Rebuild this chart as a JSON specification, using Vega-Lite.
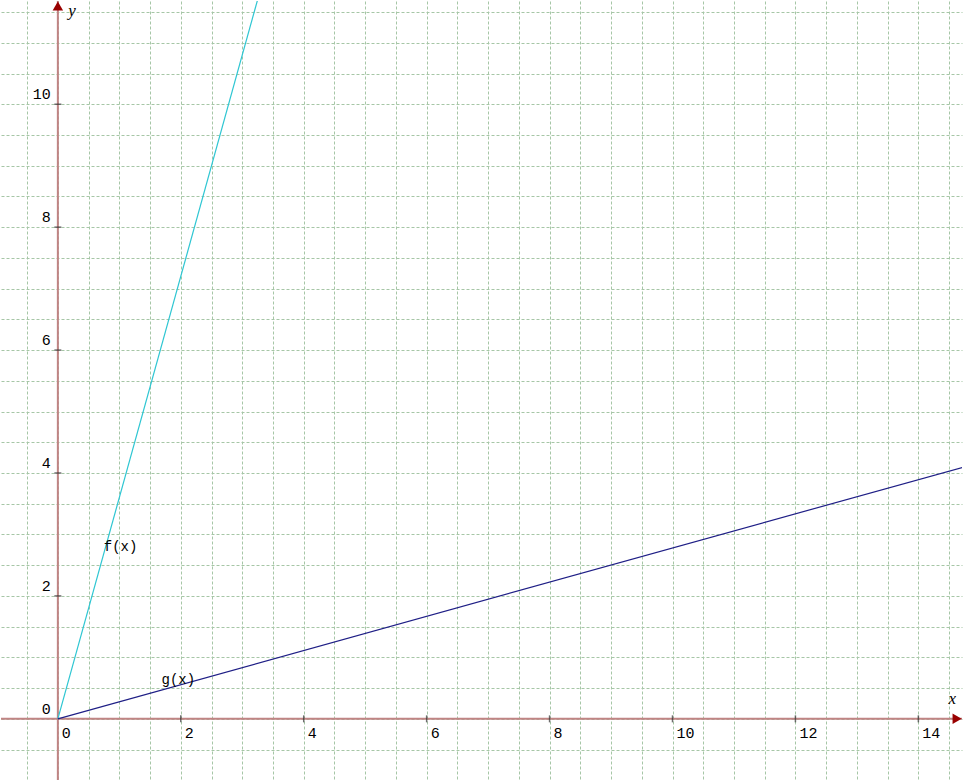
{
  "$schema": "https://vega.github.io/schema/vega-lite/v6.json",
  "width": 963,
  "height": 781,
  "padding": 0,
  "autosize": {"type": "fit", "contains": "padding"},
  "background": "white",
  "config": {
    "view": {"stroke": null},
    "axis": {
      "labels": false, "ticks": false, "domain": false, "title": null,
      "grid": true, "gridColor": "#a6c6a6", "gridDash": [3, 2], "gridWidth": 1, "gridOpacity": 1
    }
  },
  "datasets": {
    "lines": [
      {"fn": "f", "x": 0, "y": 0},
      {"fn": "f", "x": 3.3, "y": 11.88},
      {"fn": "g", "x": 0, "y": 0},
      {"fn": "g", "x": 15, "y": 4.17}
    ],
    "xticks": [
      {"v": 0, "t": "0"}, {"v": 2, "t": "2"}, {"v": 4, "t": "4"}, {"v": 6, "t": "6"},
      {"v": 8, "t": "8"}, {"v": 10, "t": "10"}, {"v": 12, "t": "12"}, {"v": 14, "t": "14"}
    ],
    "yticks": [
      {"v": 0, "t": "0"}, {"v": 2, "t": "2"}, {"v": 4, "t": "4"}, {"v": 6, "t": "6"},
      {"v": 8, "t": "8"}, {"v": 10, "t": "10"}
    ],
    "fnlabels": [
      {"x": 1.02, "y": 2.8, "t": "f(x)"},
      {"x": 1.96, "y": 0.64, "t": "g(x)"}
    ],
    "axlabels": [
      {"x": 14.55, "y": 0.32, "t": "x"},
      {"x": 0.23, "y": 11.52, "t": "y"}
    ],
    "arrows": [
      {"x": 14.63, "y": 0, "dir": "right"},
      {"x": 0, "y": 11.6, "dir": "up"}
    ]
  },
  "encoding": {
    "x": {
      "type": "quantitative",
      "scale": {"domain": [-0.925, 14.71], "nice": false, "zero": false},
      "axis": {"values": [-0.5, 0, 0.5, 1, 1.5, 2, 2.5, 3, 3.5, 4, 4.5, 5, 5.5, 6, 6.5, 7, 7.5, 8, 8.5, 9, 9.5, 10, 10.5, 11, 11.5, 12, 12.5, 13, 13.5, 14, 14.5]}
    },
    "y": {
      "type": "quantitative",
      "scale": {"domain": [-0.995, 11.68], "nice": false, "zero": false},
      "axis": {"values": [-0.5, 0, 0.5, 1, 1.5, 2, 2.5, 3, 3.5, 4, 4.5, 5, 5.5, 6, 6.5, 7, 7.5, 8, 8.5, 9, 9.5, 10, 10.5, 11, 11.5]}
    }
  },
  "layer": [
    {
      "data": {"name": "xticks"},
      "transform": [{"filter": "datum.v === 0"}],
      "mark": {"type": "rule", "color": "#c08484", "strokeWidth": 2},
      "encoding": {"y": {"field": "v", "type": "quantitative"}, "x": null}
    },
    {
      "data": {"name": "yticks"},
      "transform": [{"filter": "datum.v === 0"}],
      "mark": {"type": "rule", "color": "#c08484", "strokeWidth": 2},
      "encoding": {"x": {"field": "v", "type": "quantitative"}, "y": null}
    },
    {
      "data": {"name": "lines"},
      "mark": {"type": "line", "strokeWidth": 1.2, "clip": true},
      "encoding": {
        "x": {"field": "x", "type": "quantitative"},
        "y": {"field": "y", "type": "quantitative"},
        "color": {"field": "fn", "type": "nominal", "scale": {"domain": ["f", "g"], "range": ["#2ec6d2", "#1f1f86"]}, "legend": null}
      }
    },
    {
      "data": {"name": "xticks"},
      "transform": [{"filter": "datum.v > 0"}],
      "mark": {"type": "tick", "orient": "vertical", "size": 7, "thickness": 1.5, "color": "#303030"},
      "encoding": {"x": {"field": "v", "type": "quantitative"}, "y": {"datum": 0, "type": "quantitative"}}
    },
    {
      "data": {"name": "yticks"},
      "transform": [{"filter": "datum.v > 0"}],
      "mark": {"type": "tick", "orient": "horizontal", "size": 7, "thickness": 1.5, "color": "#303030"},
      "encoding": {"y": {"field": "v", "type": "quantitative"}, "x": {"datum": 0, "type": "quantitative"}}
    },
    {
      "data": {"name": "xticks"},
      "mark": {"type": "text", "align": "left", "baseline": "top", "dx": 4, "dy": 7, "font": "Liberation Mono", "fontSize": 15, "color": "#000000"},
      "encoding": {"x": {"field": "v", "type": "quantitative"}, "y": {"datum": 0, "type": "quantitative"}, "text": {"field": "t"}}
    },
    {
      "data": {"name": "yticks"},
      "mark": {"type": "text", "align": "right", "baseline": "alphabetic", "dx": -7, "dy": -5, "font": "Liberation Mono", "fontSize": 15, "color": "#000000"},
      "encoding": {"y": {"field": "v", "type": "quantitative"}, "x": {"datum": 0, "type": "quantitative"}, "text": {"field": "t"}}
    },
    {
      "data": {"name": "fnlabels"},
      "mark": {"type": "text", "align": "center", "baseline": "middle", "font": "Liberation Mono", "fontSize": 14, "color": "#000000"},
      "encoding": {"x": {"field": "x", "type": "quantitative"}, "y": {"field": "y", "type": "quantitative"}, "text": {"field": "t"}}
    },
    {
      "data": {"name": "axlabels"},
      "mark": {"type": "text", "align": "center", "baseline": "middle", "font": "Liberation Serif", "fontStyle": "italic", "fontSize": 17, "color": "#000000"},
      "encoding": {"x": {"field": "x", "type": "quantitative"}, "y": {"field": "y", "type": "quantitative"}, "text": {"field": "t"}}
    },
    {
      "data": {"name": "arrows"},
      "mark": {"type": "point", "filled": true, "size": 110, "color": "#990000", "opacity": 1},
      "encoding": {
        "x": {"field": "x", "type": "quantitative"},
        "y": {"field": "y", "type": "quantitative"},
        "shape": {"field": "dir", "type": "nominal", "scale": {"domain": ["right", "up"], "range": ["triangle-right", "triangle-up"]}, "legend": null}
      }
    }
  ]
}
